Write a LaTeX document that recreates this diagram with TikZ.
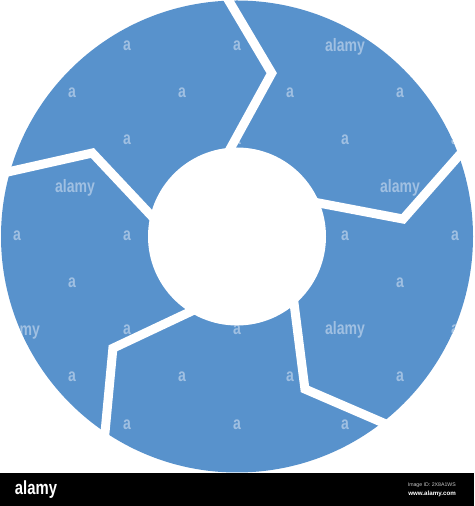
\documentclass[tikz,border=0pt]{standalone}
\usepackage{fontspec}
\usepackage{graphicx}
\setmainfont{Liberation Sans}
\usetikzlibrary{calc}
\definecolor{wheelblue}{RGB}{88,146,204}
\definecolor{wmark}{RGB}{160,192,226}
\definecolor{idgray}{RGB}{200,200,200}
\newcommand{\narrowtxt}[1]{\scalebox{0.78}[1]{#1}}
\begin{document}
\begin{tikzpicture}[x=1pt,y=1pt,
  gap/.style={draw=white, line width=9pt, line join=miter, line cap=butt},
  wm/.style={text=wmark, font=\bfseries\fontsize{18}{18}\selectfont, inner sep=0pt},
  logo/.style={text=white, font=\bfseries\fontsize{19}{19}\selectfont, inner sep=0pt},
  idtext/.style={text=idgray, font=\fontsize{5.2}{6}\selectfont, inner sep=0pt, anchor=east},
  urltext/.style={text=white, font=\bfseries\fontsize{6.2}{7}\selectfont, inner sep=0pt, anchor=east}
]
\useasboundingbox (0,0) rectangle (474,506);
% bottom bar
\fill[black] (0,0) rectangle (474,33);
\coordinate (C) at (237,269.5);
% blue disk
\fill[wheelblue] (C) circle (236);
% watermarks on the blue
\begin{scope}
  \clip (C) circle (236);
  \foreach \x/\y in {345/47, 75/188, 400/188, 20/331, 345/330}
    \node[wm] at (\x,{506-\y}) {\narrowtxt{alamy}};
  \foreach \x/\y in {127/46, 237/46,
                     72/93, 182/93, 290/93, 400/93,
                     127/140, 237/140, 345/140, 455/140,
                     17/236, 127/236, 345/236, 455/236,
                     72/283, 400/283,
                     127/330, 237/330, 455/330,
                     72/377, 182/377, 290/377, 400/377,
                     127/425, 237/425, 345/425}
    \node[wm] at (\x,{506-\y}) {\narrowtxt{a}};
\end{scope}
% white zigzag gaps
\foreach \k in {0,...,4}{
  \pgfmathsetmacro\t{6+72*\k}
  \coordinate (E\k) at ($(C)+({\t}:167)$);
  \coordinate (I\k) at ($(C)+({\t+16}:89)$);
  \coordinate (O\k) at ($(C)+({\t+14}:236)$);
  \draw[gap] ($(E\k)!1.3!(I\k)$) -- (E\k) -- ($(E\k)!1.15!(O\k)$);
}
% central hole
\fill[white] (C) circle (89);
% bar texts
\node[logo] (lg) at (36,16) {\narrowtxt{alamy}};
\node[idtext] (iid) at (456,21) {Image ID: 2X8A1WS};
\node[urltext] (url) at (456,12) {www.alamy.com};
\end{tikzpicture}
\end{document}
